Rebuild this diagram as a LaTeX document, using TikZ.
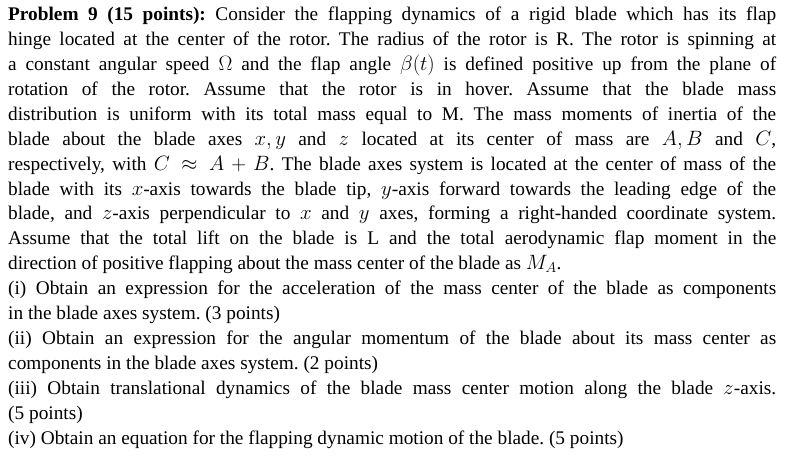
\documentclass[tikz,border=0pt]{standalone}
\usepackage{fontspec}
\setmainfont{Liberation Serif}
\begin{document}
\frenchspacing
\begin{tikzpicture}[x=1pt,y=1pt]
\useasboundingbox[fill=white] (0,0) rectangle (803,462);
\node[anchor=north west,inner sep=0pt,text width=768pt,align=justify,font=\fontsize{19.3}{24.9}\selectfont\frenchspacing] (txt) at (8,455) {%
\textbf{Problem 9 (15 points):} Consider the flapping dynamics of a rigid blade which has its flap\linebreak
hinge located at the center of the rotor. The radius of the rotor is R. The rotor is spinning at\linebreak
a constant angular speed $\Omega$ and the flap angle $\beta(t)$ is defined positive up from the plane of\linebreak
rotation of the rotor. Assume that the rotor is in hover. Assume that the blade mass\linebreak
distribution is uniform with its total mass equal to M. The mass moments of inertia of the\linebreak
blade about the blade axes $x,y$ and $z$ located at its center of mass are $A,B$ and $C$,\linebreak
respectively, with $C\approx A+B$. The blade axes system is located at the center of mass of the\linebreak
blade with its $x$-axis towards the blade tip, $y$-axis forward\ towards the leading edge of the\linebreak
blade, and\ $z$-axis perpendicular to $x$ and $y$ axes, forming a right-handed coordinate system.\linebreak
Assume that the total lift on the blade is L and the total aerodynamic flap moment in the\linebreak
direction of positive flapping about the mass center of the blade as $M_A$.\\
(i) Obtain an expression for the acceleration of the mass center of the blade as components\linebreak
in the blade axes system. (3 points)\\
(ii) Obtain an expression for the angular momentum of the blade about its mass center as\linebreak
components in the blade axes system. (2 points)\\
(iii) Obtain translational dynamics of the blade mass center motion along the blade $z$-axis.\linebreak
(5 points)\\
(iv) Obtain an equation for the flapping dynamic motion of the blade. (5 points)};
\end{tikzpicture}
\end{document}
